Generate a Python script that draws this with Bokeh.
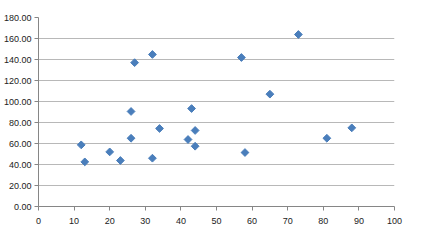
import math
from bokeh.plotting import figure
from bokeh.models import Range1d, FixedTicker, NumeralTickFormatter, ColumnDataSource
from bokeh.embed import file_html
from bokeh.resources import INLINE

x_vals = [12, 13, 20, 23, 26, 26, 27, 32, 32, 34, 42, 43, 44, 44, 57, 58, 65, 73, 81, 88]
y_vals = [58.7, 42.5, 52, 43.8, 90.5, 65, 137, 144.8, 46, 74.3, 63.8, 93.3, 72.4, 57.4, 141.9, 51.4, 107, 163.8, 65, 74.9]
x_ticks = [0, 10, 20, 30, 40, 50, 60, 70, 80, 90, 100]
y_ticks = [0, 20, 40, 60, 80, 100, 120, 140, 160, 180]

src = ColumnDataSource(dict(x=x_vals, y=y_vals))

p = figure(width=430, height=244, output_backend="svg", toolbar_location=None,
           x_range=Range1d(0, 100), y_range=Range1d(0, 180),
           min_border_left=37, min_border_right=36, min_border_top=17, min_border_bottom=38)
p.outline_line_color = None
p.background_fill_color = "white"
p.border_fill_color = "white"

p.scatter("x", "y", source=src, marker="square", size=5.5, angle=math.pi / 4,
          fill_color="#4a7ebb", line_color="#4a7ebb", line_width=1)

for ax in (p.xaxis[0], p.yaxis[0]):
    ax.axis_line_color = "#868686"
    ax.major_tick_line_color = "#868686"
    ax.minor_tick_line_color = None
    ax.major_tick_in = 0
    ax.major_tick_out = 4
    ax.major_label_text_font = "Liberation Sans"
    ax.major_label_text_font_size = "9px"
    ax.major_label_text_color = "#222222"

p.xaxis.ticker = FixedTicker(ticks=x_ticks)
p.yaxis.ticker = FixedTicker(ticks=y_ticks)
p.yaxis.formatter = NumeralTickFormatter(format="0.00")
p.xaxis.major_label_standoff = 7
p.yaxis.major_label_standoff = 3

p.xgrid.grid_line_color = None
p.ygrid.ticker = FixedTicker(ticks=y_ticks)
p.ygrid.grid_line_color = "#b8b8b8"
p.ygrid.grid_line_width = 1

open("out.html", "w").write(file_html(p, INLINE))
